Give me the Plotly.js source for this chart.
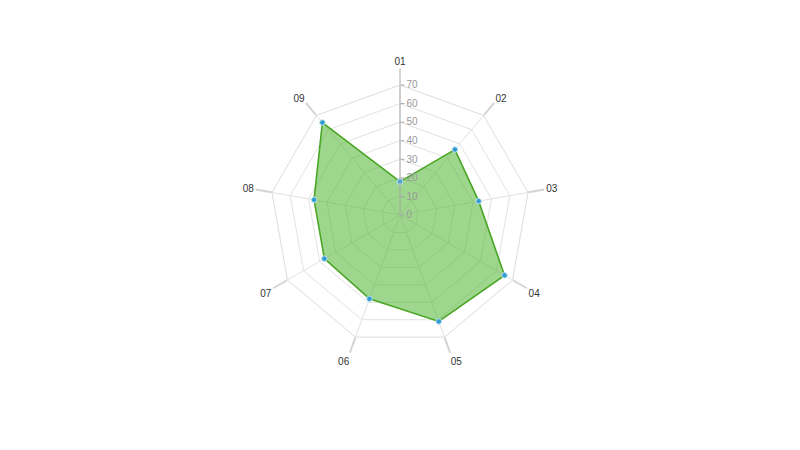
<!DOCTYPE html>
<html>
<head>
<meta charset="utf-8">
<script src="https://cdn.plot.ly/plotly-3.0.1.min.js"></script>
<style>html,body{margin:0;padding:0;background:#fff;}#chart{width:800px;height:450px;}</style>
</head>
<body>
<div id="chart"></div>
<script>
const categories = ['01','02','03','04','05','06','07','08','09'];
const values = [18, 46, 43, 65, 61, 48, 47, 47, 65];
const radialTicks = [0, 10, 20, 30, 40, 50, 60, 70];

const trace = {
  type: 'scatterpolar',
  r: values.concat([values[0]]),
  theta: categories.concat([categories[0]]),
  mode: 'lines+markers',
  fill: 'toself',
  fillcolor: 'rgba(80,180,50,0.55)',
  line: {color: '#4aa625', width: 1.6},
  marker: {color: '#2f9bd0', size: 5.5, line: {color: '#bfe3f2', width: 1}},
  hoverinfo: 'skip'
};

const layout = {
  width: 800, height: 450,
  margin: {l: 0, r: 0, t: 0, b: 0},
  paper_bgcolor: '#fff',
  showlegend: false,
  font: {family: 'Liberation Sans, Arial, sans-serif', color: '#333', size: 10},
  polar: {
    domain: {x: [270/800, 530/800], y: [105/450, 365/450]},
    bgcolor: 'rgba(0,0,0,0)',
    gridshape: 'linear',
    radialaxis: {
      range: [0, 70],
      tickvals: radialTicks,
      ticktext: radialTicks.map(String),
      angle: 90,
      tickangle: 90,
      side: 'clockwise',
      showline: true,
      linecolor: '#aaa',
      linewidth: 1,
      ticks: 'outside',
      ticklen: 4,
      tickcolor: '#aaa',
      tickfont: {color: '#999', size: 10},
      gridcolor: '#e2e2e2',
      gridwidth: 1,
      layer: 'above traces'
    },
    angularaxis: {
      type: 'category',
      categoryarray: categories,
      rotation: 90,
      direction: 'clockwise',
      showline: true,
      linecolor: '#dcdcdc',
      linewidth: 1,
      gridcolor: '#e2e2e2',
      ticks: 'outside',
      ticklen: 16,
      tickwidth: 2,
      tickcolor: '#d4d4d4',
      tickfont: {color: '#333', size: 10},
      layer: 'above traces'
    }
  }
};

Plotly.newPlot('chart', [trace], layout, {staticPlot: true});
</script>
</body>
</html>
